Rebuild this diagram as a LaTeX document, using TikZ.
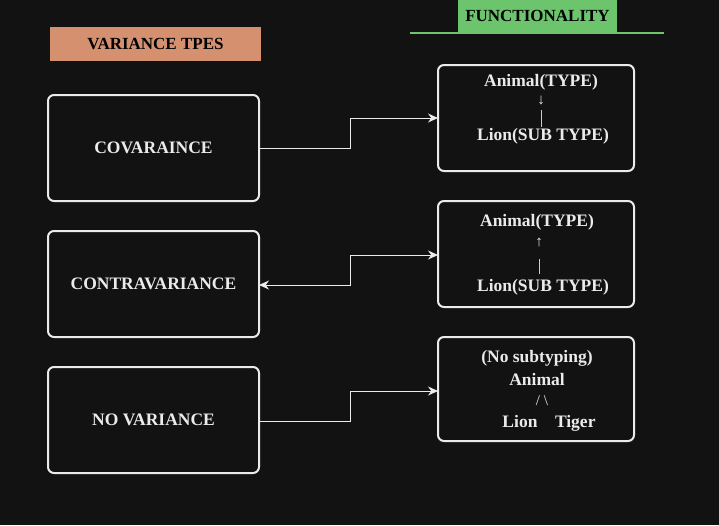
\documentclass[tikz,border=0pt]{standalone}
\usetikzlibrary{arrows.meta}
\usepackage{fontspec}
\setmainfont{Liberation Serif}
\begin{document}
\begin{tikzpicture}[x=1pt,y=-1pt,
 box/.style={draw=white!92!black,line width=2pt,rounded corners=6pt,fill=none},
 lbl/.style={text=white!92!black,font=\bfseries\fontsize{17.5}{20}\selectfont,align=center},
 conn/.style={draw=white!92!black,line width=1pt,-{Stealth[length=10pt,width=9pt]}}]
\fill[fill={rgb,255:red,18;green,18;blue,18}] (0,0) rectangle (719,525);
\useasboundingbox (0,0) rectangle (719,525);
\definecolor{sal}{RGB}{212,144,111}
\definecolor{grn}{RGB}{108,197,108}
\node[fill=sal,minimum width=211,minimum height=34,font=\bfseries\fontsize{17}{20}\selectfont,text=black] (vt) at (155.5,44) {VARIANCE TPES};
\draw[grn,line width=1.5pt] (410,33) -- (664,33);
\node[fill=grn,minimum width=159,minimum height=32,font=\bfseries\fontsize{17}{20}\selectfont,text=black,anchor=north] (fn) at (537.5,0) {FUNCTIONALITY};
\draw[box] (48,95) rectangle (259,201); \node[lbl] (c1) at (153.5,148) {COVARAINCE};
\draw[box] (48,231) rectangle (259,337); \node[lbl] (c2) at (153.5,284) {CONTRAVARIANCE};
\draw[box] (48,367) rectangle (259,473); \node[lbl] (c3) at (153.5,420) {NO VARIANCE};
\draw[box] (438,65) rectangle (634,171);
\draw[box] (438,201) rectangle (634,307);
\draw[box] (438,337) rectangle (634,441);
\coordinate (l1) at (259,148); \coordinate (r1) at (438,118);
\coordinate (l2) at (259,285); \coordinate (r2) at (438,255);
\coordinate (l3) at (259,421); \coordinate (r3) at (438,391);
\draw[conn] (l1) -- (350,148) -- (350,118) -- (r1);
\draw[conn,{Stealth[length=10pt,width=9pt]}-{Stealth[length=10pt,width=9pt]}] (l2) -- (350,285) -- (350,255) -- (r2);
\draw[conn] (l3) -- (350,421) -- (350,391) -- (r3);
\node[lbl] (a1) at (541,82) {Animal(TYPE)};
\node[lbl,font=\fontsize{15}{15}\selectfont] (ar1) at (541,101) {↓};
\draw[white!80!black,line width=0.8pt] (541,110) -- (541,127);
\node[lbl] (b1) at (543,136) {Lion(SUB TYPE)};
\node[lbl] (a2) at (537,222) {Animal(TYPE)};
\node[lbl,font=\fontsize{15}{15}\selectfont] (ar2) at (539,243) {↑};
\draw[white!80!black,line width=0.8pt] (539,259) -- (539,274);
\node[lbl] (b2) at (543,287) {Lion(SUB TYPE)};
\node[lbl] (n1) at (537,358) {(No subtyping)};
\node[lbl] (n2) at (537,380) {Animal};
\node[lbl,font=\fontsize{15}{15}\selectfont] (n3) at (542,401) {/ \textbackslash};
\node[lbl] (n4) at (549,423) {Lion\quad Tiger};
\end{tikzpicture}
\end{document}
